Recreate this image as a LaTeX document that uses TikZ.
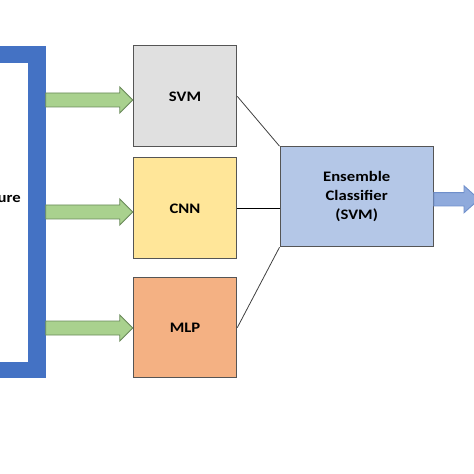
\documentclass[tikz,border=0pt]{standalone}
\usepackage{fontspec}
\setmainfont{Carlito}
\usetikzlibrary{calc}
\definecolor{brblue}{HTML}{4472C4}
\definecolor{svmfill}{HTML}{E0E0E0}
\definecolor{cnnfill}{HTML}{FFE699}
\definecolor{mlpfill}{HTML}{F4B183}
\definecolor{ensfill}{HTML}{B4C7E7}
\definecolor{grfill}{HTML}{A9D18E}
\definecolor{grline}{HTML}{6A8A5A}
\definecolor{outfill}{HTML}{8FAADC}
\definecolor{outline}{HTML}{6F8FCB}
\definecolor{boxline}{HTML}{555555}
\newcommand\mytxt[1]{\scalebox{1.15}[1]{#1}}
\newcommand\fatarrow[5]{% start, end, half shaft, half head, head length
  \path let \p1=(#1), \p2=(#2) in
    (\x1,\y1+#3) -- (\x2-#5,\y1+#3) -- (\x2-#5,\y1+#4) -- (\x2,\y1)
    -- (\x2-#5,\y1-#4) -- (\x2-#5,\y1-#3) -- (\x1,\y1-#3) -- cycle;}
\tikzset{
  txtfont/.style={font=\bfseries\fontsize{14.5bp}{19bp}\selectfont},
  clsbox/.style={draw=boxline, line width=1.1bp, minimum width=103.4bp, minimum height=100.7bp, inner sep=0pt, txtfont},
  greenarr/.style={fill=grfill, draw=grline, line width=0.9bp},
  bluearr/.style={fill=outfill, draw=outline, line width=0.9bp},
  link/.style={draw=black!75, line width=0.8bp},
}
\begin{document}
\begin{tikzpicture}[x=1bp,y=-1bp]
\useasboundingbox (0,0) rectangle (474,474);
\clip (0,0) rectangle (474,474);
% feature bracket
\node[fill=brblue, draw=none, minimum width=65.7bp, minimum height=332bp, inner sep=0pt, anchor=north east] (bracket) at (45.7,46) {};
\node[fill=white, draw=none, minimum width=48bp, minimum height=299bp, inner sep=0pt, anchor=north east] (inner) at (28,63) {};
\node[txtfont, anchor=east, inner sep=0pt] (feat) at (21,199) {\mytxt{ure}};
% classifier boxes
\node[clsbox, fill=svmfill] (svm) at (185,96.3) {\mytxt{SVM}};
\node[clsbox, fill=cnnfill] (cnn) at (185,208.3) {\mytxt{CNN}};
\node[clsbox, fill=mlpfill, minimum height=100bp] (mlp) at (185,327.7) {\mytxt{MLP}};
\node[draw=boxline, line width=1.1bp, fill=ensfill, minimum width=153.3bp, minimum height=100bp, inner sep=0pt, align=center, txtfont] (ens) at (356.7,196.7) {\mytxt{Ensemble}\\\mytxt{Classifier}\\\mytxt{(SVM)}};
% input arrows
\coordinate (a1) at (bracket.east |- 0,100);
\coordinate (a2) at (bracket.east |- 0,212);
\coordinate (a3) at (bracket.east |- 0,328);
\coordinate (e1) at (svm.west |- 0,100);
\coordinate (e2) at (cnn.west |- 0,212);
\coordinate (e3) at (mlp.west |- 0,328);
\begin{scope}[every path/.style={greenarr}]
\fatarrow{a1}{e1}{7bp}{13bp}{13bp}
\fatarrow{a2}{e2}{7bp}{13bp}{13bp}
\fatarrow{a3}{e3}{7bp}{13bp}{13bp}
\end{scope}
% links to ensemble
\draw[link] (svm.east) -- (ens.north west);
\draw[black, line width=1.5bp] (cnn.east) -- (cnn.east -| ens.west);
\draw[link] (mlp.east) -- (ens.south west);
% output arrow
\coordinate (o1) at (ens.east |- 0,199.3);
\coordinate (out) at (479,199.3);
\begin{scope}[every path/.style={bluearr}]
\fatarrow{o1}{out}{6.7bp}{13.5bp}{15bp}
\end{scope}
\end{tikzpicture}
\end{document}
